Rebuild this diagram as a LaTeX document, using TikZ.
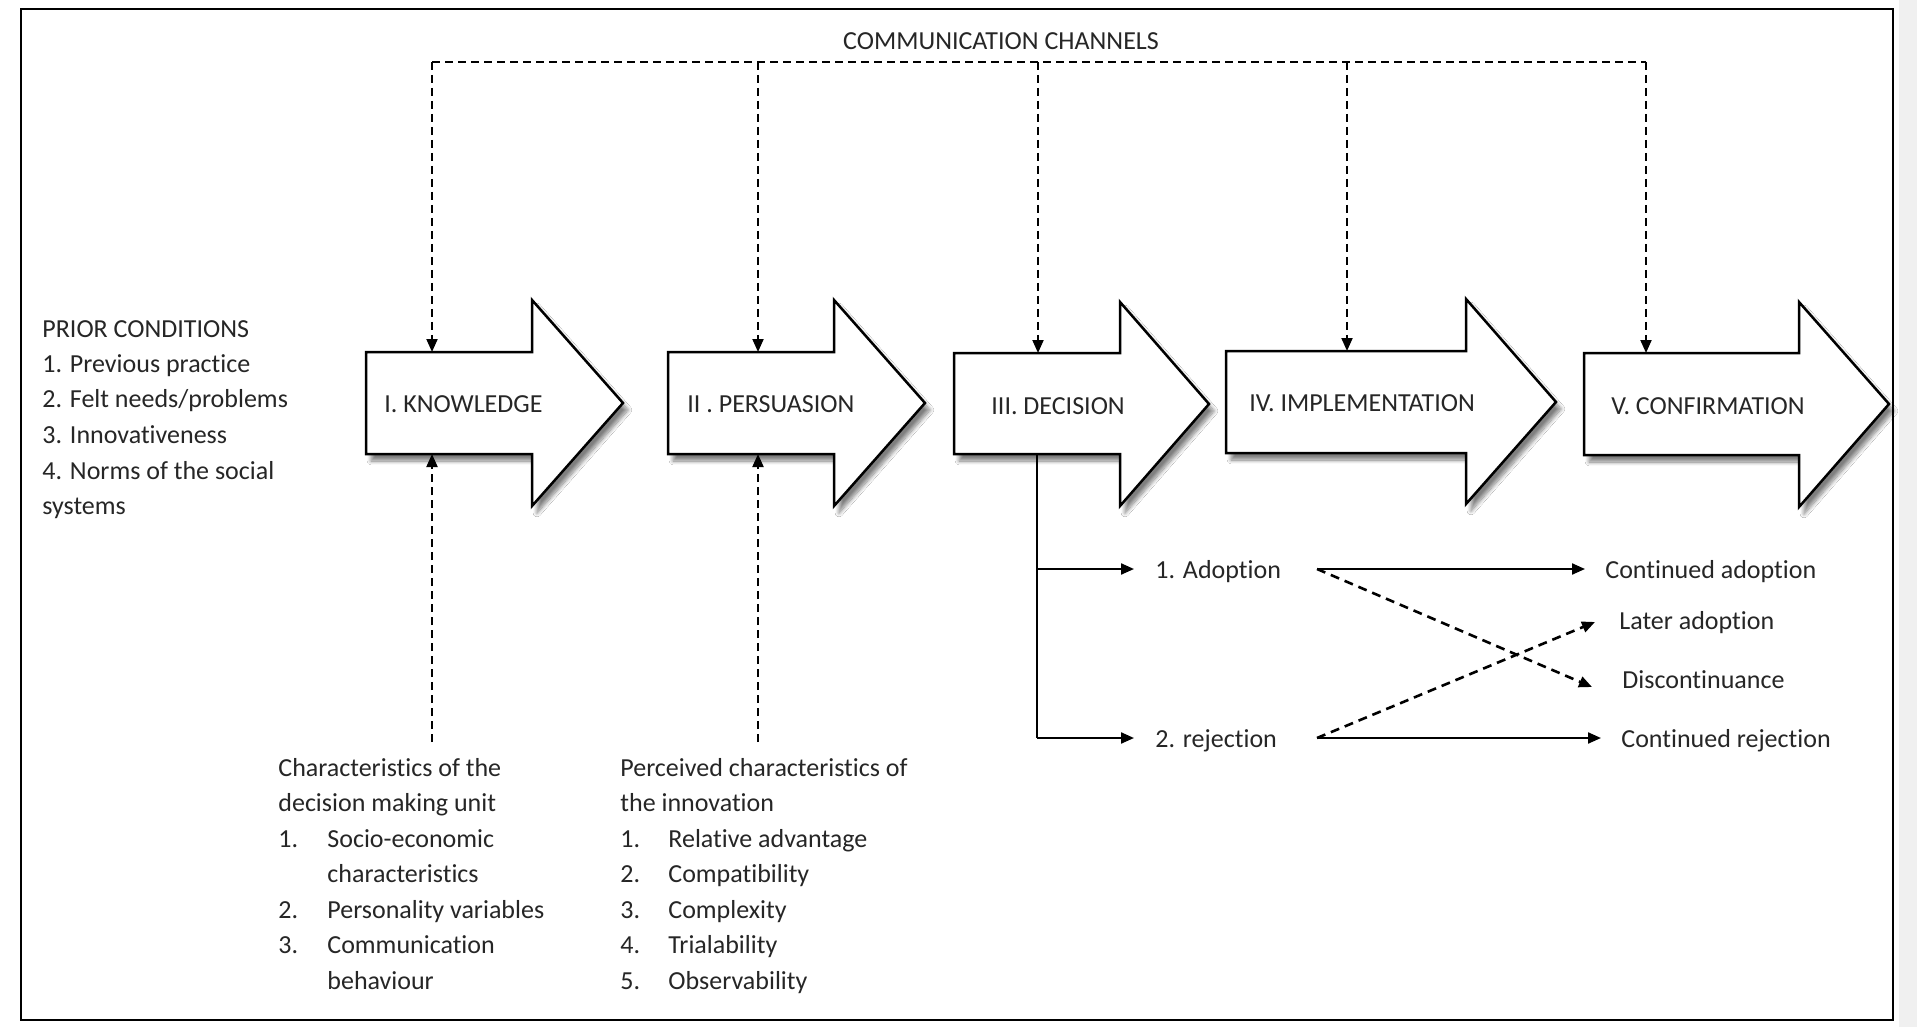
\documentclass[tikz,border=0pt]{standalone}
\usepackage{fontspec}
\setmainfont{Carlito}[Ligatures={NoCommon,NoRequired,NoContextual},Contextuals=NoAlternate]
\usetikzlibrary{arrows.meta,shadows.blur}
\tikzset{
  blockarrow/.style={draw=black, line width=1.25pt, fill=white, line join=miter,
    blur shadow={shadow xshift=2.5pt, shadow yshift=-3.5pt, shadow blur steps=10, shadow opacity=50}},
  lbl/.style={font=\fontsize{13pt}{17.75pt}\selectfont, text=black!85, inner sep=0pt, anchor=base west},
  dashline/.style={draw=black, line width=1pt, dash pattern=on 4pt off 2.5pt},
  boldash/.style={draw=black, line width=1.3pt, dash pattern=on 4.5pt off 3pt},
  arrowtip/.style={-{Triangle[length=6.5pt,width=5.5pt]}},
  solidline/.style={draw=black, line width=1.1pt},
  frameline/.style={draw=black, line width=1.4pt}
}
\begin{document}
\begin{tikzpicture}[x=0.5pt,y=-0.5pt]
\path[use as bounding box, fill=white] (0,0) rectangle (1917,1027);
\fill[black!6] (1899,0) rectangle (1917,1027);
\draw[frameline] (21,9) rectangle (1893,1020);

% block arrows
\draw[blockarrow] (366,352) -- (532,352) -- (532,300) -- (623,403) -- (532,506) -- (532,454) -- (366,454) -- cycle;
\draw[blockarrow] (668,352) -- (834,352) -- (834,300) -- (925,403) -- (834,506) -- (834,454) -- (668,454) -- cycle;
\draw[blockarrow] (954,353) -- (1120,353) -- (1120,302) -- (1209,404) -- (1120,506) -- (1120,454) -- (954,454) -- cycle;
\draw[blockarrow] (1226,351) -- (1466,351) -- (1466,299) -- (1556,402) -- (1466,504) -- (1466,453) -- (1226,453) -- cycle;
\draw[blockarrow] (1584,353) -- (1799,353) -- (1799,302) -- (1889,404) -- (1799,507) -- (1799,455) -- (1584,455) -- cycle;

\node[lbl] (know) at (384,412) {I. KNOWLEDGE};
\node[lbl] (pers) at (687,412) {II . PERSUASION};
\node[lbl] (deci) at (991,414) {III. DECISION};
\node[lbl] (impl) at (1249,411) {IV. IMPLEMENTATION};
\node[lbl] (conf) at (1611,414) {V. CONFIRMATION};

% communication channels
\node[lbl, anchor=base] (cc) at (1001,50) {COMMUNICATION CHANNELS};
\coordinate (c1) at (432,62);
\coordinate (c2) at (758,62);
\coordinate (c3) at (1038,62);
\coordinate (c4) at (1347,62);
\coordinate (c5) at (1646,62);
\coordinate (kt) at (432,352);
\coordinate (pt) at (758,352);
\coordinate (dt) at (1038,353);
\coordinate (it) at (1347,351);
\coordinate (ct) at (1646,353);
\draw[dashline] (c1) -- (c5);
\draw[dashline, arrowtip] (c1) -- (kt);
\draw[dashline, arrowtip] (c2) -- (pt);
\draw[dashline, arrowtip] (c3) -- (dt);
\draw[dashline, arrowtip] (c4) -- (it);
\draw[dashline, arrowtip] (c5) -- (ct);

% prior conditions
\foreach \t [count=\i from 0] in {PRIOR CONDITIONS, 1. Previous practice, 2. Felt needs/problems, 3. Innovativeness, 4. Norms of the social, systems}
  \node[lbl] (pc\i) at (42,{337+35.5*\i}) {\t};

% bottom influences
\coordinate (kb) at (432,454);
\coordinate (pb) at (758,454);
\coordinate (ks) at (432,742);
\coordinate (ps) at (758,742);
\draw[dashline, arrowtip] (ks) -- (kb);
\draw[dashline, arrowtip] (ps) -- (pb);

\node[lbl] (du0) at (278,776) {Characteristics of the};
\node[lbl] (du1) at (278,811.5) {decision making unit};
\node[lbl] (dn1) at (278,847) {1.};
\node[lbl] (du2) at (327,847) {Socio-economic};
\node[lbl] (du3) at (327,882.5) {characteristics};
\node[lbl] (dn2) at (278,918) {2.};
\node[lbl] (du4) at (327,918) {Personality variables};
\node[lbl] (dn3) at (278,953.5) {3.};
\node[lbl] (du5) at (327,953.5) {Communication};
\node[lbl] (du6) at (327,989) {behaviour};

\node[lbl] (pi0) at (620,776) {Perceived characteristics of};
\node[lbl] (pi1) at (620,811.5) {the innovation};
\node[lbl] (pn1) at (620,847) {1.};
\node[lbl] (pi2) at (668,847) {Relative advantage};
\node[lbl] (pn2) at (620,882.5) {2.};
\node[lbl] (pi3) at (668,882.5) {Compatibility};
\node[lbl] (pn3) at (620,918) {3.};
\node[lbl] (pi4) at (668,918) {Complexity};
\node[lbl] (pn4) at (620,953.5) {4.};
\node[lbl] (pi5) at (668,953.5) {Trialability};
\node[lbl] (pn5) at (620,989) {5.};
\node[lbl] (pi6) at (668,989) {Observability};

% decision outcomes
\coordinate (db) at (1037,454);
\coordinate (ja) at (1037,569);
\coordinate (jr) at (1037,738);
\coordinate (aa) at (1134,569);
\coordinate (ra) at (1134,738);
\draw[solidline] (db) -- (jr);
\draw[solidline, arrowtip] (ja) -- (aa);
\draw[solidline, arrowtip] (jr) -- (ra);
\node[lbl] (adop) at (1155,578) {1. Adoption};
\node[lbl] (reje) at (1155,747) {2. rejection};

\coordinate (as) at (1317,569);
\coordinate (rs) at (1317,738);
\coordinate (cae) at (1585,569);
\coordinate (cre) at (1601,738);
\coordinate (dse) at (1592,687);
\coordinate (lae) at (1595,622);
\draw[solidline, arrowtip] (as) -- (cae);
\draw[solidline, arrowtip] (rs) -- (cre);
\draw[boldash, arrowtip] (as) -- (dse);
\draw[boldash, arrowtip] (rs) -- (lae);
\node[lbl] (cado) at (1605,578) {Continued adoption};
\node[lbl] (lado) at (1619,629) {Later adoption};
\node[lbl] (disc) at (1622,688) {Discontinuance};
\node[lbl] (crej) at (1621,747) {Continued rejection};
\end{tikzpicture}
\end{document}
